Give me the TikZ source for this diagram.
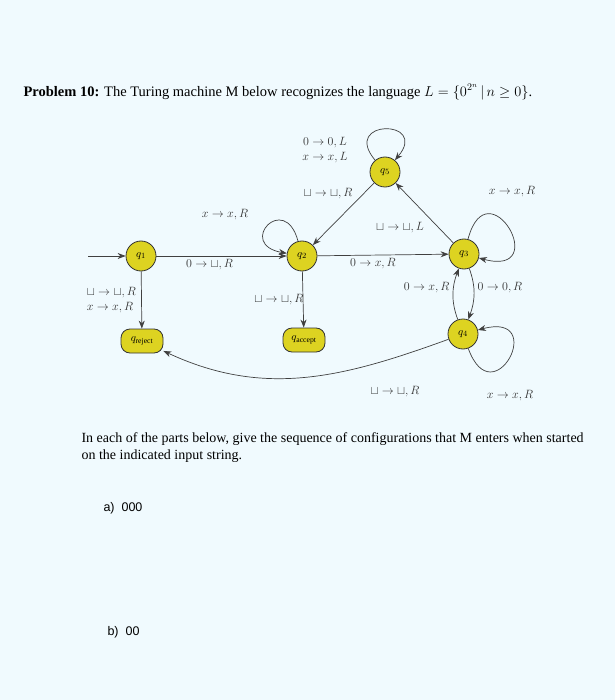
\documentclass[tikz,border=0pt]{standalone}
\usepackage{fontspec}
\setmainfont{Liberation Serif}
\newfontfamily\optfont{Liberation Sans}
\usetikzlibrary{arrows.meta}
\begin{document}
\begin{tikzpicture}[x=1pt,y=-1pt,
  st/.style={circle,draw=black!80,fill=yellow!85!black,line width=0.8pt,minimum size=30pt,inner sep=0pt,font=\fontsize{11}{13}\selectfont},
  halt/.style={rounded corners=9pt,draw=black!80,fill=yellow!85!black,line width=0.8pt,minimum width=42pt,minimum height=24pt,inner sep=1pt,font=\fontsize{11}{13}\selectfont},
  tr/.style={-{Stealth[length=8pt]},line width=0.7pt,draw=black!75},
  lb/.style={font=\fontsize{13}{15}\selectfont,text=black!80}]
\fill[white!94!cyan] (0,0) rectangle (615,700);
\node[anchor=west,font=\fontsize{14.5}{17}\selectfont] (title) at (20,92) {\textbf{Problem 10:} The Turing machine M below recognizes the language $L=\{0^{2^n}\,|\,n\ge 0\}$.};
\node[st] (q1) at (141,256) {$q_1$};
\node[st] (q2) at (302,256) {$q_2$};
\node[st] (q3) at (464,254) {$q_3$};
\node[st] (q4) at (463,334) {$q_4$};
\node[st] (q5) at (385,172) {$q_5$};
\node[halt] (qr) at (142,341) {$q_{\mathrm{reject}}$};
\node[halt] (qa) at (304,340) {$q_{\mathrm{accept}}$};
\coordinate (start) at (88,256);
\draw[tr] (start) -- (q1);
\draw[tr] (q1) -- node[lb,below,xshift=-12pt]{$0\to\sqcup,R$} (q2);
\draw[tr] (q2) -- node[lb,below,xshift=-10pt]{$0\to x,R$} (q3);
\draw[tr] (q1) -- node[lb,left,align=left,xshift=-2pt]{$\sqcup\to\sqcup,R$\\$x\to x,R$} (qr);
\draw[tr] (q2) -- node[lb,left,xshift=4pt]{$\sqcup\to\sqcup,R$} (qa);
\draw[tr] (q2) to[out=105,in=170,looseness=8] (q2);
\node[lb] (l22) at (225,215) {$x\to x,R$};
\draw[tr] (q5) -- (q2);
\node[lb] (l52) at (328,194) {$\sqcup\to\sqcup,R$};
\draw[tr] (q3) -- (q5);
\node[lb] (l35) at (400,228) {$\sqcup\to\sqcup,L$};
\draw[tr] (q5) to[out=130,in=50,looseness=7] (q5);
\node[lb,align=center] (l55) at (325,150) {$0\to0,L$\\$x\to x,L$};
\draw[tr] (q3) to[out=75,in=-15,looseness=9] (q3);
\node[lb] (l33) at (512,192) {$x\to x,R$};
\draw[tr] (q3) to[out=-70,in=70] node[lb,right,yshift=6pt]{$0\to0,R$} (q4);
\draw[tr] (q4) to[out=110,in=-110] node[lb,left,yshift=6pt]{$0\to x,R$} (q3);
\draw[tr] (q4) to[out=-70,in=15,looseness=9] (q4);
\node[lb] (l44) at (510,396) {$x\to x,R$};
\draw[tr] (q4) to[out=200,in=-25] (qr);
\node[lb] (l4r) at (395,392) {$\sqcup\to\sqcup,R$};
\node[anchor=north west,align=left,font=\fontsize{14}{17}\selectfont] (para) at (78,429) {In each of the parts below, give the sequence of configurations that M enters when started\\on the indicated input string.};
\node[anchor=west,font=\optfont\fontsize{12.5}{15}\selectfont] (pa) at (100,508) {a)\ \ 000};
\node[anchor=west,font=\optfont\fontsize{12.5}{15}\selectfont] (pb) at (104,632) {b)\ \ 00};
\end{tikzpicture}
\end{document}
